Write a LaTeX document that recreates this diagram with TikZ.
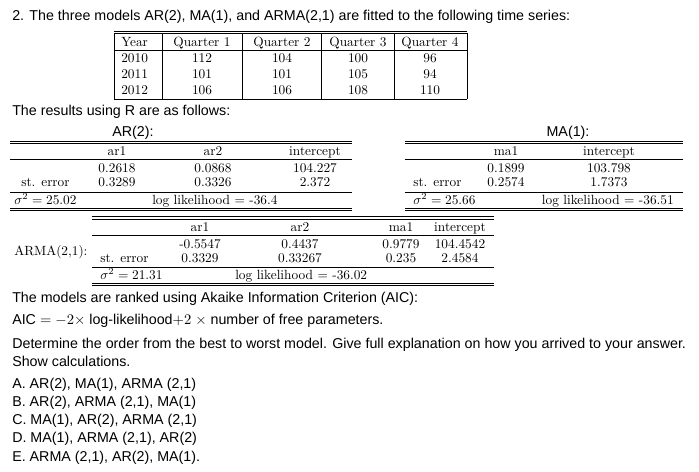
\documentclass[tikz,border=0pt]{standalone}
\usepackage{fontspec}
\setsansfont{Liberation Sans}
\begin{document}
\begin{tikzpicture}[x=0.75pt,y=-0.75pt,
  sf/.style={anchor=base west,inner sep=0pt,font=\sffamily\fontsize{10.7}{12}\selectfont},
  tl/.style={anchor=base west,inner sep=0pt,font=\fontsize{10}{11}\selectfont},
  tc/.style={anchor=base,inner sep=0pt,font=\fontsize{10}{11}\selectfont},
  tr/.style={anchor=base east,inner sep=0pt,font=\fontsize{10}{11}\selectfont},
  rl/.style={line width=0.6pt}]
\useasboundingbox (0,0) rectangle (699,471);
\node[sf] (l1) at (12,21) {2. The three models AR(2), MA(1), and ARMA(2,1) are fitted to the following time series:};
% year table
\draw[rl] (114,31) -- (467,31) (114,33) -- (467,33) (114,50) -- (467,50) (114,99) -- (467,99);
\foreach \x in {114,162,242,321,394,467} \draw[rl] (\x,33) -- (\x,99);
\node[tl] (yh) at (121,46) {Year};
\node[tc] (q1) at (202,46) {Quarter 1};
\node[tc] (q2) at (282,46) {Quarter 2};
\node[tc] (q3) at (358,46) {Quarter 3};
\node[tc] (q4) at (430,46) {Quarter 4};
\foreach \y/\yr/\a/\b/\c/\d in {62/2010/112/104/100/96,78/2011/101/101/105/94,94/2012/106/106/108/110}{
  \node[tl] at (121,\y) {\yr};
  \node[tc] at (202,\y) {\a};
  \node[tc] at (282,\y) {\b};
  \node[tc] at (358,\y) {\c};
  \node[tc] at (430,\y) {\d};
}
\node[sf] (res) at (12,115) {The results using R are as follows:};
% AR(2)
\node[tc,font=\sffamily\fontsize{10.7}{12}\selectfont] (arl) at (133,136) {AR(2):};
\draw[rl] (10,141) -- (352,141) (10,143.5) -- (352,143.5) (10,159) -- (352,159) (10,192) -- (352,192) (10,208) -- (352,208) (10,210.5) -- (352,210.5);
\node[tc] at (117,155.5) {ar1};
\node[tc] at (213,155.5) {ar2};
\node[tc] at (315,155.5) {intercept};
\node[tc] at (117,172.5) {0.2618};
\node[tc] at (213,172.5) {0.0868};
\node[tc] at (315,172.5) {104.227};
\node[tl] at (21,186.5) {st. error};
\node[tc] at (117,186.5) {0.3289};
\node[tc] at (213,186.5) {0.3326};
\node[tc] at (315,186.5) {2.372};
\node[tl] at (14,204) {$\sigma^2=25.02$};
\node[tl] at (152,204) {log likelihood $=$ -36.4};
% MA(1)
\node[tc,font=\sffamily\fontsize{10.7}{12}\selectfont] (mal) at (568,136) {MA(1):};
\draw[rl] (405,141) -- (683,141) (405,143.5) -- (683,143.5) (405,159) -- (683,159) (405,192) -- (683,192) (405,208) -- (683,208) (405,210.5) -- (683,210.5);
\node[tc] at (506,155.5) {ma1};
\node[tc] at (609,155.5) {intercept};
\node[tc] at (506,172.5) {0.1899};
\node[tc] at (609,172.5) {103.798};
\node[tl] at (413,186.5) {st. error};
\node[tc] at (506,186.5) {0.2574};
\node[tc] at (609,186.5) {1.7373};
\node[tl] at (413,204) {$\sigma^2=25.66$};
\node[tr] at (674,204) {log likelihood $=$ -36.51};
% ARMA
\node[tl] (armal) at (14,255) {ARMA(2,1):};
\draw[rl] (92,216.5) -- (494,216.5) (92,219) -- (494,219) (92,235.5) -- (494,235.5) (92,267.5) -- (494,267.5) (92,283) -- (494,283) (92,285.5) -- (494,285.5);
\node[tc] at (200,231) {ar1};
\node[tc] at (300,231) {ar2};
\node[tc] at (401,231) {ma1};
\node[tc] at (460,231) {intercept};
\node[tc] at (200,248) {-0.5547};
\node[tc] at (300,248) {0.4437};
\node[tc] at (401,248) {0.9779};
\node[tc] at (460,248) {104.4542};
\node[tl] at (100,262.5) {st. error};
\node[tc] at (200,262.5) {0.3329};
\node[tc] at (300,262.5) {0.33267};
\node[tc] at (401,262.5) {0.235};
\node[tc] at (460,262.5) {2.4584};
\node[tl] at (100,279) {$\sigma^2=21.31$};
\node[tl] at (235,279) {log likelihood $=$ -36.02};
% text
\node[sf] (t1) at (12,302) {The models are ranked using Akaike Information Criterion (AIC):};
\node[sf] (t2) at (12,324) {AIC $=-2\times$ log-likelihood$+2$ $\times$ number of free parameters.};
\node[sf] (t3) at (12,348) {Determine the order from the best to worst model. Give full explanation on how you arrived to your answer.};
\node[sf] (t4) at (12,366) {Show calculations.};
\node[sf] (a) at (12,388) {A. AR(2), MA(1), ARMA (2,1)};
\node[sf] (b) at (12,406) {B. AR(2), ARMA (2,1), MA(1)};
\node[sf] (c) at (12,424) {C. MA(1), AR(2), ARMA (2,1)};
\node[sf] (d) at (12,442) {D. MA(1), ARMA (2,1), AR(2)};
\node[sf] (e) at (12,461) {E. ARMA (2,1), AR(2), MA(1).};
\end{tikzpicture}
\end{document}
